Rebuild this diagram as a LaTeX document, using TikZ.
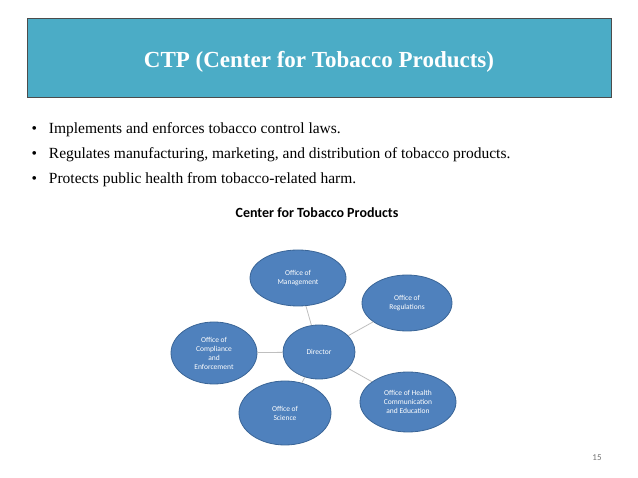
\documentclass[tikz,border=0pt]{standalone}
\usepackage{fontspec}
\usetikzlibrary{shapes.geometric}
\setmainfont{Liberation Serif}
\newfontfamily\carfont{Carlito}
\definecolor{hdr}{HTML}{4BACC6}
\definecolor{blu}{HTML}{4F81BD}
\definecolor{bld}{HTML}{3A6597}
\begin{document}
\begin{tikzpicture}[x=1pt,y=-1pt,
 ov/.style={ellipse,draw=bld,line width=0.8pt,fill=blu,text=white,font=\carfont\fontsize{7.5}{9}\selectfont,align=center,inner sep=0pt},
 lk/.style={draw=black!25,line width=0.8pt}]
\useasboundingbox (0,0) rectangle (638,478);
\node[draw=black!70,line width=0.8pt,fill=hdr,minimum width=584pt,minimum height=79pt] (hd) at (319,57.5) {};
\node[text=white,font=\bfseries\fontsize{23}{26}\selectfont] (tt) at (319,62) {CTP (Center for Tobacco Products)};
\node[anchor=west,font=\fontsize{15.5}{18}\selectfont] (b1) at (28,130) {\textbullet\hspace{12pt}Implements and enforces tobacco control laws.};
\node[anchor=west,font=\fontsize{15.5}{18}\selectfont] (b2) at (28,155) {\textbullet\hspace{12pt}Regulates manufacturing, marketing, and distribution of tobacco products.};
\node[anchor=west,font=\fontsize{15.5}{18}\selectfont] (b3) at (28,180) {\textbullet\hspace{12pt}Protects public health from tobacco-related harm.};
\node[font=\carfont\bfseries\fontsize{14}{16}\selectfont] (ct) at (317,213) {Center for Tobacco Products};
\node[ov,minimum width=72pt,minimum height=54pt] (d) at (319,352) {Director};
\node[ov,minimum width=96pt,minimum height=56pt] (m) at (298,278) {Office of\\Management};
\node[ov,minimum width=90pt,minimum height=56pt] (r) at (407,303) {Office of\\Regulations};
\node[ov,minimum width=86pt,minimum height=62pt] (c) at (214,353) {Office of\\Compliance\\and\\Enforcement};
\node[ov,minimum width=92pt,minimum height=64pt] (s) at (285,413) {Office of\\Science};
\node[ov,minimum width=96pt,minimum height=60pt] (h) at (408,402) {Office of Health\\Communication\\and Education};
\foreach \n in {m,r,c,s,h} \draw[lk] (d) -- (\n);
\node[text=black!55,font=\carfont\fontsize{9}{10}\selectfont] (pg) at (597,458) {15};
\end{tikzpicture}
\end{document}
